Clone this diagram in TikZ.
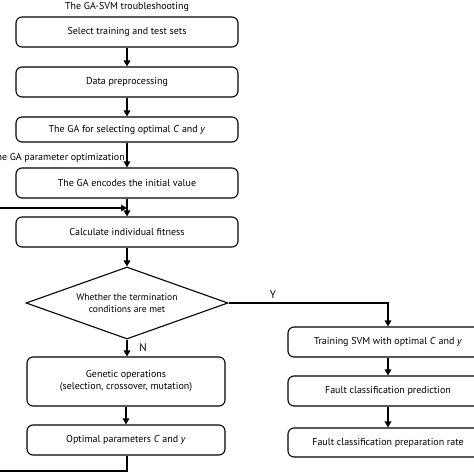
\documentclass[tikz,border=0pt]{standalone}
\usepackage{fontspec}
\setmainfont{PT Sans}
\usetikzlibrary{shapes.geometric,arrows.meta}
\begin{document}
\begin{tikzpicture}[x=1pt,y=-1pt,
  txt/.style={font=\fontsize{10}{12}\selectfont, inner sep=0pt},
  box/.style={draw, rounded corners=6pt, line width=1.1pt, align=center, inner sep=0pt,
    font=\fontsize{10}{12}\selectfont},
  dia/.style={draw, diamond, aspect=2.8, line width=1.1pt, align=center, inner sep=0pt,
    font=\fontsize{9.6}{12}\selectfont},
  arr/.style={line width=1.6pt, -{Triangle[length=6pt,width=6.5pt]}},
  ln/.style={line width=1.6pt}]
\useasboundingbox (0,0) rectangle (474,474);
\clip (0,0) rectangle (474,474);
\node[txt] (title) at (127,7) {The GA-SVM troubleshooting};
\node[box, minimum width=222pt, minimum height=30pt] (b1) at (127,32) {Select training and test sets};
\node[box, minimum width=222pt, minimum height=30pt] (b2) at (127,82) {Data preprocessing};
\node[box, minimum width=222pt, minimum height=25pt] (b3) at (127,129.5) {The GA for selecting optimal \textit{C} and \textit{y}};
\node[box, minimum width=222pt, minimum height=30pt] (b4) at (127,183) {The GA encodes the initial value};
\node[box, minimum width=222pt, minimum height=30pt] (b5) at (127,232) {Calculate individual fitness};
\node[dia, minimum width=202pt, minimum height=72pt] (d) at (127,303) {Whether the termination\\conditions are met};
\node[box, minimum width=198pt, minimum height=49pt] (g) at (126,381.5) {Genetic operations\\(selection, crossover, mutation)};
\node[box, minimum width=198pt, minimum height=30pt] (o) at (126,440) {Optimal parameters \textit{C} and \textit{y}};
\node[box, minimum width=200pt, minimum height=30pt] (r1) at (388,342) {Training SVM with optimal \textit{C} and \textit{y}};
\node[box, minimum width=200pt, minimum height=30pt] (r2) at (388,391) {Fault classification prediction};
\node[box, minimum width=200pt, minimum height=29pt] (r3) at (388,442.5) {Fault classification preparation rate};
\node[txt, anchor=east] (lab) at (125,158) {The GA parameter optimization};
\node[txt, font=\fontsize{11}{13}\selectfont] (ylab) at (273,295) {Y};
\node[txt, font=\fontsize{11}{13}\selectfont] (nlab) at (143,348) {N};
\coordinate (loopA) at (-5,471);
\coordinate (loopB) at (-5,208);
\coordinate (loopC) at (127,208);
\draw[arr] (b1) -- (b2);
\draw[arr] (b2) -- (b3);
\draw[arr] (b3) -- (b4);
\draw[arr] (b4) -- (b5);
\draw[arr] (loopB) -- (loopC);
\draw[arr] (b5) -- (d);
\draw[arr] (d.south) -- (g.north -| d.south);
\draw[arr] (g.south -| o.north) -- (o.north);
\draw[ln] (o.south -| d.south) |- (loopA);
\draw[arr] (d.east) -| (r1.north);
\draw[arr] (r1) -- (r2);
\draw[arr] (r2) -- (r3);
\end{tikzpicture}
\end{document}
